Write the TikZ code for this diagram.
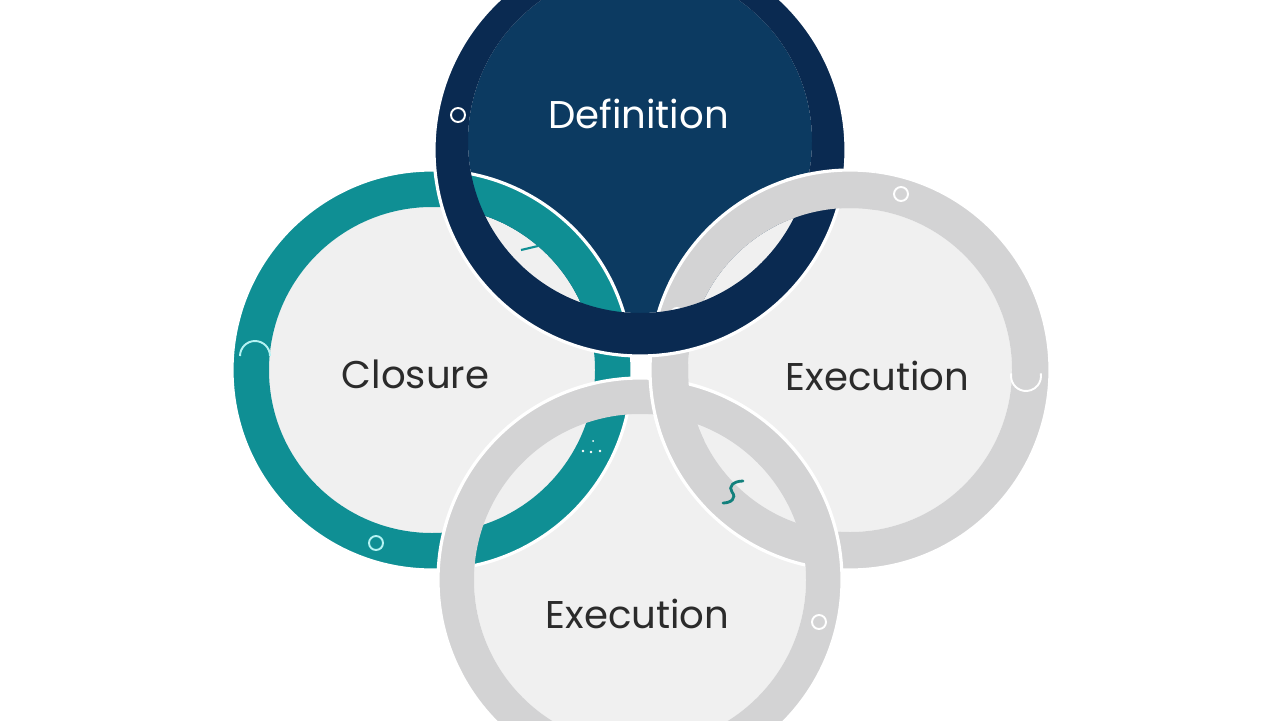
\documentclass[tikz,border=0pt]{standalone}
\usepackage{fontspec}
\setmainfont{Poppins}
\definecolor{navyring}{HTML}{0A2A51}
\definecolor{navyfill}{HTML}{0C3A61}
\definecolor{tealring}{HTML}{0F8F94}
\definecolor{grayring}{HTML}{D3D3D4}
\definecolor{grayfill}{HTML}{F0F0F0}
\definecolor{textgray}{HTML}{2B2B2B}
\definecolor{lightcyan}{HTML}{B5F3F3}
\definecolor{squiggle}{HTML}{12807C}

\begin{document}
\begin{tikzpicture}[x=0.02cm, y=0.02cm,
  rim/.style={white, line width=1.8pt},
  deco/.style={line width=1.1pt},
  lbl/.style={font=\fontsize{22}{26}\selectfont, anchor=base, text=textgray}]

\useasboundingbox (0,0) rectangle (1280,-720);
\fill[white] (0,0) rectangle (1280,-720);

\fill[grayfill] (640,-580) circle (166);
\fill[navyfill] (640,-141) circle (172);
\fill[grayfill] (432,-370) circle (163);
\fill[grayfill] (850,-370) circle (162);

\fill[tealring, even odd rule] (432,-370) circle (200) (432,-370) circle (163);
\draw[rim] (432,-370) circle (200);
\draw[lightcyan, deco] (240,-356) arc (180:0:15);
\draw[lightcyan, deco] (376,-543) circle (7);
\draw[tealring, line width=1.2pt] (521,-250) -- (538,-246);
\fill[white] (583,-451) circle (1.4) (591,-452) circle (1.4) (600,-451) circle (1.4) (593,-441) circle (1);

\fill[grayring, even odd rule] (850,-370) circle (200) (850,-370) circle (162);
\draw[rim] (850,-370) circle (200);
\draw[white, deco] (901,-194) circle (7);
\draw[white, deco] (1026,-376) ++(170:15) arc (170:370:15);
\draw[white, deco] (677,-314) circle (6);
\draw[squiggle, line width=1.6pt, line cap=round] (743,-481) .. controls (733,-481) and (728,-487) .. (732,-492) .. controls (737,-498) and (731,-503) .. (723,-503);

\fill[navyring, even odd rule] (640,-150) circle (206) (640,-141) circle (172);
\draw[rim] (640,-150) circle (206);
\draw[white, deco] (458,-115) circle (7);

\fill[grayring, even odd rule] (640,-580) circle (202) (640,-580) circle (166);
\draw[rim] (640,-580) circle (202);
\draw[white, deco] (819,-622) circle (7);

\begin{scope}
\clip (785,-145) rectangle (875,-240);
\fill[grayring, even odd rule] (850,-370) circle (200) (850,-370) circle (162);
\draw[rim] (850,-370) circle (200);
\end{scope}
\begin{scope}
\clip (628,-364) rectangle (720,-440);
\fill[grayring, even odd rule] (850,-370) circle (200) (850,-370) circle (162);
\draw[rim] (850,-370) circle (200);
\end{scope}

\node[lbl, text=white] (def) at (638.5,-128.5) {Definition};
\node[lbl] (clo) at (415.5,-388) {Closure};
\node[lbl] (exr) at (877.5,-390) {Execution};
\node[lbl] (exb) at (637.5,-628) {Execution};

\end{tikzpicture}
\end{document}
